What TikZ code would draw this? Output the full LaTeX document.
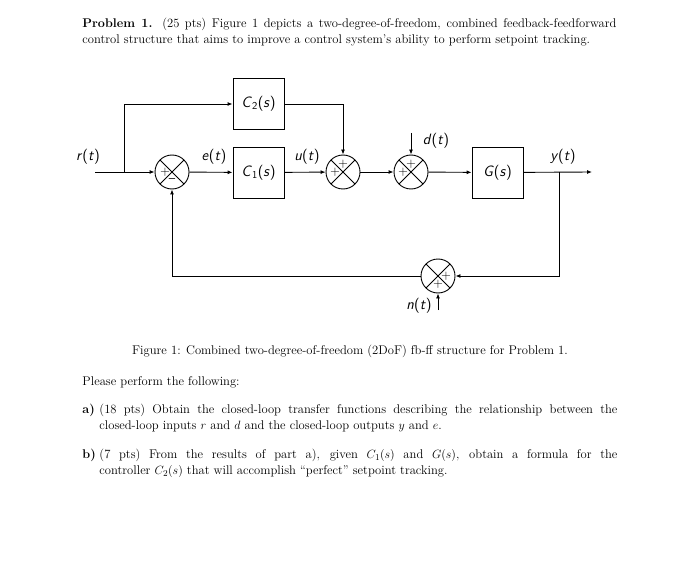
\documentclass[tikz,border=0pt]{standalone}
\usetikzlibrary{arrows.meta}
\newcommand{\sv}[1]{\textsf{\textit{#1}}}
\newcommand{\sig}[1]{\textsf{\textit{#1}(\textit{t})}}
\begin{document}
\begin{tikzpicture}[x=1pt,y=-1pt,line width=0.9pt,
  blk/.style={draw,minimum width=51pt,minimum height=51pt,font=\sffamily\fontsize{15}{18}\selectfont,inner sep=0},
  sum/.style={draw,circle,minimum size=34pt,inner sep=0,path picture={
    \draw (path picture bounding box.south west)--(path picture bounding box.north east)
          (path picture bounding box.north west)--(path picture bounding box.south east);}},
  arr/.style={-{Latex[length=5pt,width=4pt]}},
  lab/.style={font=\sffamily\fontsize{15}{18}\selectfont},
  pm/.style={font=\sffamily\fontsize{13}{13}\selectfont,inner sep=0}]
\useasboundingbox (0,0) rectangle (700,561);
\tikzset{body/.style={anchor=north west,text width=534pt,align=justify,inner sep=0,font=\fontsize{12.6}{16}\selectfont},
  item/.style={body,text width=518pt}}
\node[body] (txt) at (82,18)
 {\textbf{Problem 1.} (25 pts) Figure 1 depicts a two-degree-of-freedom, combined feedback-feedforward control structure that aims to improve a control system's ability to perform setpoint tracking.};
\node[blk] (c2) at (258.5,104) {\sv{C}\textsubscript{2}(\sv{s})};
\node[blk] (c1) at (258.5,172.5) {\sv{C}\textsubscript{1}(\sv{s})};
\node[blk] (g) at (497.5,172.5) {\sv{G}(\sv{s})};
\node[sum] (s1) at (172,172) {};
\node[sum] (s2) at (343,172) {};
\node[sum] (s3) at (411,172) {};
\node[sum] (s4) at (438,276) {};
\node[pm] at (165,172) {+}; \node[pm] at (172,181) {--};
\node[pm] at (335,172) {+}; \node[pm] at (343,164) {+};
\node[pm] at (403,172) {+}; \node[pm] at (411,164) {+};
\node[pm] at (446,276) {+}; \node[pm] at (438,284) {+};
\coordinate (rin) at (95,172);
\coordinate (br) at (124,172);
\coordinate (yb) at (559,172);
\coordinate (yout) at (592,172);
\coordinate (din) at (411,133);
\coordinate (nin) at (438,310);
\node[lab] at (88,157) {\sig{r}};
\node[lab] at (214,157) {\sig{e}};
\node[lab] at (307,157) {\sig{u}};
\node[lab] at (436,141) {\sig{d}};
\node[lab] at (563,157) {\sig{y}};
\node[lab] at (419,306) {\sig{n}};
\draw[arr] (rin) -- (s1);
\draw[arr] (br) |- (c2);
\draw[arr] (s1) -- (c1);
\draw[arr] (c1) -- (s2);
\draw[arr] (c2) -| (s2);
\draw[arr] (s2) -- (s3);
\draw[arr] (din) -- (s3);
\draw[arr] (s3) -- (g);
\draw[arr] (g) -- (yout);
\draw[arr] (yb) |- (s4);
\draw[arr] (nin) -- (s4);
\draw[arr] (s4) -| (s1);
\node[anchor=north,inner sep=0,font=\fontsize{12.6}{16}\selectfont] (cap) at (350,345) {Figure 1: Combined two-degree-of-freedom (2DoF) fb-ff structure for Problem 1.};
\node[anchor=north west,inner sep=0,font=\fontsize{12.6}{16}\selectfont] (pl) at (82,376) {Please perform the following:};
\node[anchor=north west,inner sep=0,font=\fontsize{12.6}{16}\bfseries] (la) at (82,404) {a)};
\node[item] (qa) at (99,404)
 {(18 pts) Obtain the closed-loop transfer functions describing the relationship between the\linebreak closed-loop inputs $r$ and $d$ and the closed-loop outputs $y$ and $e$.};
\node[anchor=north west,inner sep=0,font=\fontsize{12.6}{16}\bfseries] (lb) at (82,449) {b)};
\node[item] (qb) at (99,449)
 {(7 pts) From the results of part a), given $C_1(s)$ and $G(s)$, obtain a formula for the\linebreak controller $C_2(s)$ that will accomplish ``perfect'' setpoint tracking.};
\end{tikzpicture}
\end{document}
